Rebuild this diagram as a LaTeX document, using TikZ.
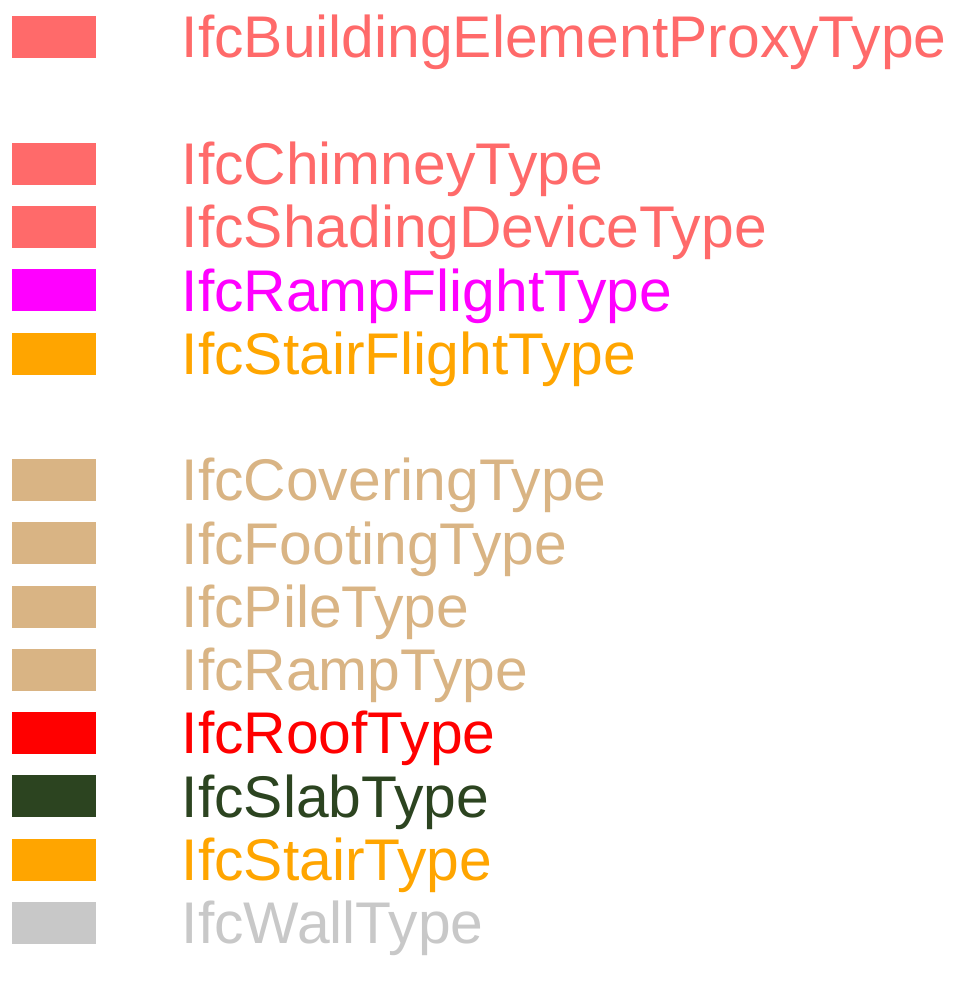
\documentclass[tikz,border=0pt]{standalone}
\usepackage{fontspec}
\setmainfont{Liberation Sans}
\usepackage{tikz}
\definecolor{proxyred}{RGB}{255,106,106}
\definecolor{rampmag}{RGB}{255,0,255}
\definecolor{stairorange}{RGB}{255,165,0}
\definecolor{covertan}{RGB}{217,180,132}
\definecolor{roofred}{RGB}{255,0,0}
\definecolor{slabgreen}{RGB}{44,68,32}
\definecolor{wallgray}{RGB}{200,200,200}

\begin{document}
\begin{tikzpicture}[x=1pt,y=-1pt,
    swatch/.style={rectangle,inner sep=0pt,minimum width=84pt,minimum height=42pt,anchor=north west},
    label/.style={inner sep=0pt,anchor=base west,font=\fontsize{58.8}{70}\selectfont}]

    \useasboundingbox (0,0) rectangle (969,1003);

    \node[swatch,fill=proxyred]    (s1)  at (12, 16)    {};
    \node[swatch,fill=proxyred]    (s2)  at (12, 142.5) {};
    \node[swatch,fill=proxyred]    (s3)  at (12, 205.8) {};
    \node[swatch,fill=rampmag]     (s4)  at (12, 269)   {};
    \node[swatch,fill=stairorange] (s5)  at (12, 332.3) {};
    \node[swatch,fill=covertan]    (s6)  at (12, 458.8) {};
    \node[swatch,fill=covertan]    (s7)  at (12, 522)   {};
    \node[swatch,fill=covertan]    (s8)  at (12, 585.3) {};
    \node[swatch,fill=covertan]    (s9)  at (12, 648.5) {};
    \node[swatch,fill=roofred]     (s10) at (12, 711.8) {};
    \node[swatch,fill=slabgreen]   (s11) at (12, 775)   {};
    \node[swatch,fill=stairorange] (s12) at (12, 838.3) {};
    \node[swatch,fill=wallgray]    (s13) at (12, 901.5) {};

    \node[label,text=proxyred]    (t1)  at (181.5, 58)    {IfcBuildingElementProxyType};
    \node[label,text=proxyred]    (t2)  at (181.5, 184.5) {IfcChimneyType};
    \node[label,text=proxyred]    (t3)  at (181.5, 247.8) {IfcShadingDeviceType};
    \node[label,text=rampmag]     (t4)  at (181.5, 311)   {IfcRampFlightType};
    \node[label,text=stairorange] (t5)  at (181.5, 374.3) {IfcStairFlightType};
    \node[label,text=covertan]    (t6)  at (181.5, 500.8) {IfcCoveringType};
    \node[label,text=covertan]    (t7)  at (181.5, 564)   {IfcFootingType};
    \node[label,text=covertan]    (t8)  at (181.5, 627.3) {IfcPileType};
    \node[label,text=covertan]    (t9)  at (181.5, 690.5) {IfcRampType};
    \node[label,text=roofred]     (t10) at (181.5, 753.8) {IfcRoofType};
    \node[label,text=slabgreen]   (t11) at (181.5, 817)   {IfcSlabType};
    \node[label,text=stairorange] (t12) at (181.5, 880.3) {IfcStairType};
    \node[label,text=wallgray]    (t13) at (181.5, 943.5) {IfcWallType};
  \end{tikzpicture}
\end{document}
